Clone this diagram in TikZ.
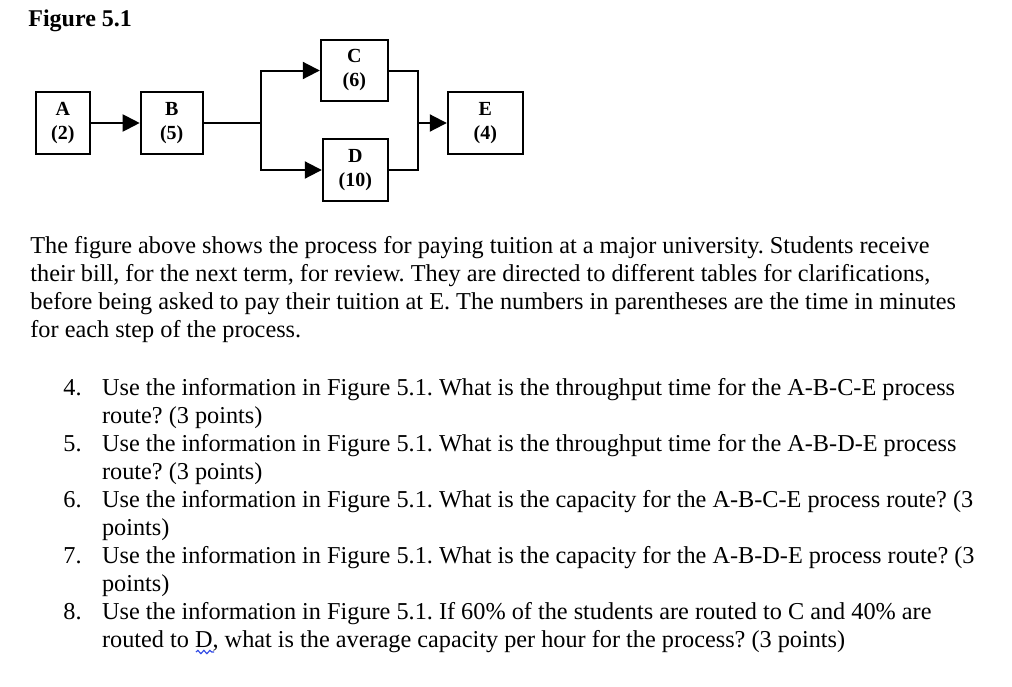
\documentclass[tikz,border=0pt]{standalone}
\usepackage{fontspec}
\setmainfont{Liberation Serif}
\usepackage{tikz}
\usetikzlibrary{arrows.meta}
\usetikzlibrary{positioning}
\usetikzlibrary{decorations.pathmorphing}
\definecolor{wavy}{rgb}{0.2, 0.3, 0.9}
\frenchspacing
\tikzset{
  stepbox/.style={draw, line width=1pt, align=center, inner sep=0pt,
    font=\bfseries\fontsize{10}{12}\selectfont},
  flow/.style={line width=1pt, -{Triangle[length=8.5pt, width=8.5pt]}},
  link/.style={line width=1pt},
  bodytext/.style={anchor=base west, align=left, inner sep=0pt,
    font=\fontsize{12.13}{14}\selectfont},
  itemnum/.style={anchor=base west, inner sep=0pt, font=\fontsize{12.13}{14}\selectfont}
}

\begin{document}
\begin{tikzpicture}[x=0.5pt, y=-0.5pt]
    \useasboundingbox (0, 0) rectangle (1012, 686);

    \node [anchor=base west, inner sep=0pt, font=\bfseries\fontsize{12}{14}\selectfont] (title) at (28, 26) {Figure 5.1};

    \node [stepbox, minimum width=27pt, minimum height=31pt] (A) at (62.9, 123) {A\\(2)};
    \node [stepbox, minimum width=31pt, minimum height=31pt] (B) at (171.7, 123) {B\\(5)};
    \node [stepbox, minimum width=33.5pt, minimum height=30.5pt] (C) at (354.3, 70.5) {C\\(6)};
    \node [stepbox, minimum width=32.5pt, minimum height=31pt] (D) at (355.3, 170) {D\\(10)};
    \node [stepbox, minimum width=37.5pt, minimum height=31pt] (E) at (485.3, 123) {E\\(4)};
    \coordinate (split) at (261, 123);
    \coordinate (merge) at (418, 123);

    \draw [flow] (A) -- (B);
    \draw [link] (B) -- (split);
    \draw [flow] (split) |- (C);
    \draw [flow] (split) |- (D);
    \draw [link] (C) -| (merge);
    \draw [link] (D) -| (merge);
    \draw [flow] (merge) -- (E);

    % base anchor sits on the last line
    \node [bodytext] (intro) at (30, 337) {The figure above shows the process for paying tuition at a major university. Students receive\\
      their bill, for the next term, for review. They are directed to different tables for clarifications,\\
      before being asked to pay their tuition at E. The numbers in parentheses are the time in minutes\\
      for each step of the process.};

    \foreach \n/\la/\lb [count=\i from 0] in {
      4/{Use the information in Figure 5.1. What is the throughput time for the A-B-C-E process}/{route? (3 points)},
      5/{Use the information in Figure 5.1. What is the throughput time for the A-B-D-E process}/{route? (3 points)},
      6/{Use the information in Figure 5.1. What is the capacity for the A-B-C-E process route? (3}/{points)},
      7/{Use the information in Figure 5.1. What is the capacity for the A-B-D-E process route? (3}/{points)},
      8/{Use the information in Figure 5.1. If 60\% of the students are routed to C and 40\% are}/{routed to D, what is the average capacity per hour for the process? (3 points)}} {
      \node [itemnum] (num\n) at (63, 395 + 56*\i) {\n.};
      \node [bodytext] (item\n) at (101.7, 423 + 56*\i) {\la\\\lb};
    }

    % spell check mark under D
    \draw [wavy, line width=0.6pt, decorate, decoration={snake, amplitude=0.8pt, segment length=3pt}] (196, 652) -- (214, 652);
  \end{tikzpicture}
\end{document}
